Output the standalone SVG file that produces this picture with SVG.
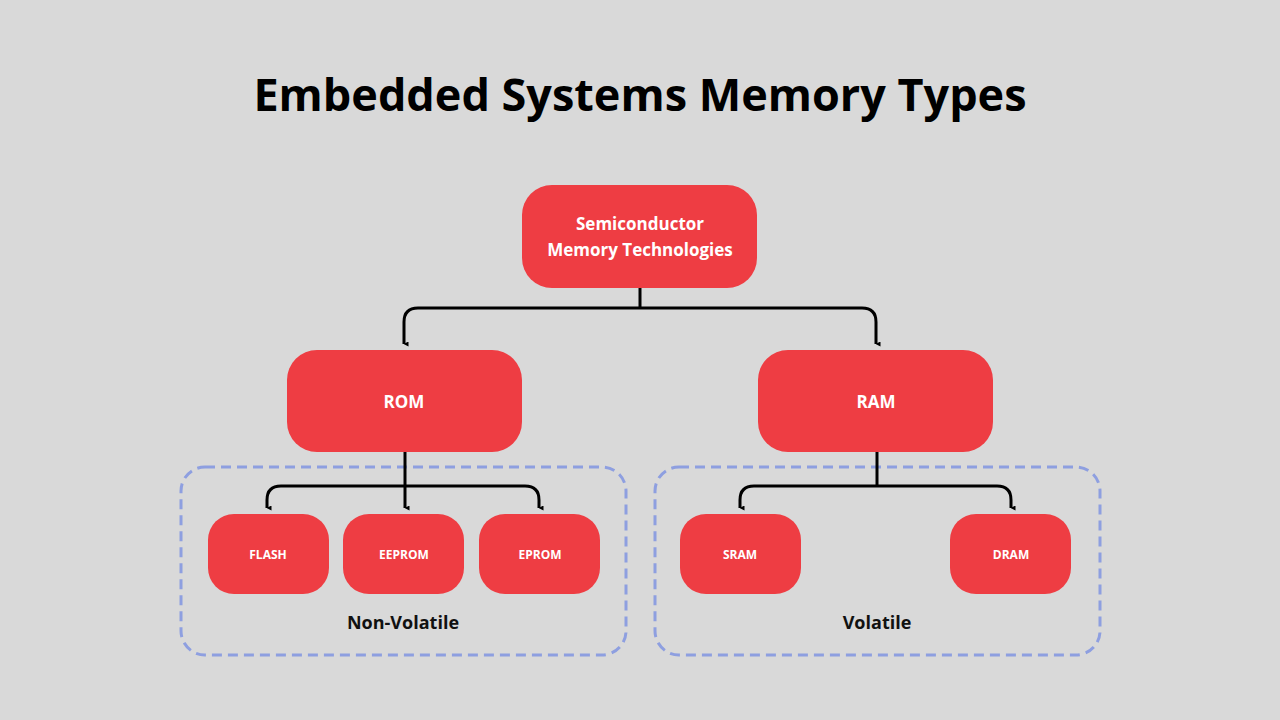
<svg xmlns="http://www.w3.org/2000/svg" width="1280" height="720" viewBox="0 0 1280 720">
<defs>
<marker id="ah" viewBox="0 0 10 10" refX="5" refY="9" markerWidth="5" markerHeight="5" orient="auto-start-reverse" markerUnits="userSpaceOnUse">
<path d="M0,0 L10,0 L5,10 Z" fill="#000"/>
</marker>
<style>
.n{fill:#EE3D43}
.t{font-family:"Open Sans","Liberation Sans",sans-serif;font-weight:bold;fill:#fff;text-anchor:middle}
.c{fill:none;stroke:#000;stroke-width:3;stroke-linejoin:round}
.g{fill:none;stroke:#8E9FE0;stroke-width:3;stroke-dasharray:10 6}
.l{font-family:"Open Sans","Liberation Sans",sans-serif;font-weight:bold;font-size:18px;fill:#111;text-anchor:middle}
</style>
</defs>
<rect width="1280" height="720" fill="#D9D9D9"/>
<text x="640" y="111" font-family="'Open Sans','Liberation Sans',sans-serif" font-weight="bold" font-size="45" text-anchor="middle" fill="#000">Embedded Systems Memory Types</text>
<g id="groups">
<rect id="nonvolatile" class="g" x="181" y="467" width="445" height="188" rx="24"/>
<rect id="volatile" class="g" x="655" y="467" width="445" height="188" rx="24"/>
<text class="l" x="403" y="629">Non-Volatile</text>
<text class="l" x="877" y="629">Volatile</text>
</g>
<g id="connectors">
<path class="c" d="M640,288 V308"/>
<path class="c" d="M640,308 H418 Q404,308 404,322 V344" marker-end="url(#ah)"/>
<path class="c" d="M640,308 H862 Q876,308 876,322 V344" marker-end="url(#ah)"/>
<path class="c" d="M405,452 V508" marker-end="url(#ah)"/>
<path class="c" d="M405,486 H281 Q267,486 267,500 V508" marker-end="url(#ah)"/>
<path class="c" d="M405,486 H525 Q539,486 539,500 V508" marker-end="url(#ah)"/>
<path class="c" d="M877,452 V486"/>
<path class="c" d="M877,486 H754 Q740,486 740,500 V508" marker-end="url(#ah)"/>
<path class="c" d="M877,486 H997 Q1011,486 1011,500 V508" marker-end="url(#ah)"/>
</g>
<g id="root"><rect class="n" x="522" y="185" width="235" height="103" rx="30"/>
<text class="t" x="640" y="230" font-size="17">Semiconductor</text>
<text class="t" x="640" y="256" font-size="17">Memory Technologies</text></g>
<g id="rom"><rect class="n" x="287" y="350" width="235" height="102" rx="30"/><text class="t" x="404" y="408" font-size="17">ROM</text></g>
<g id="ram"><rect class="n" x="758" y="350" width="235" height="102" rx="30"/><text class="t" x="876" y="408" font-size="17">RAM</text></g>
<g id="flash"><rect class="n" x="208" y="514" width="121" height="80" rx="26"/><text class="t" x="268" y="559" font-size="12">FLASH</text></g>
<g id="eeprom"><rect class="n" x="343" y="514" width="121" height="80" rx="26"/><text class="t" x="404" y="559" font-size="12">EEPROM</text></g>
<g id="eprom"><rect class="n" x="479" y="514" width="121" height="80" rx="26"/><text class="t" x="540" y="559" font-size="12">EPROM</text></g>
<g id="sram"><rect class="n" x="680" y="514" width="121" height="80" rx="26"/><text class="t" x="740" y="559" font-size="12">SRAM</text></g>
<g id="dram"><rect class="n" x="950" y="514" width="121" height="80" rx="26"/><text class="t" x="1011" y="559" font-size="12">DRAM</text></g>
</svg>
